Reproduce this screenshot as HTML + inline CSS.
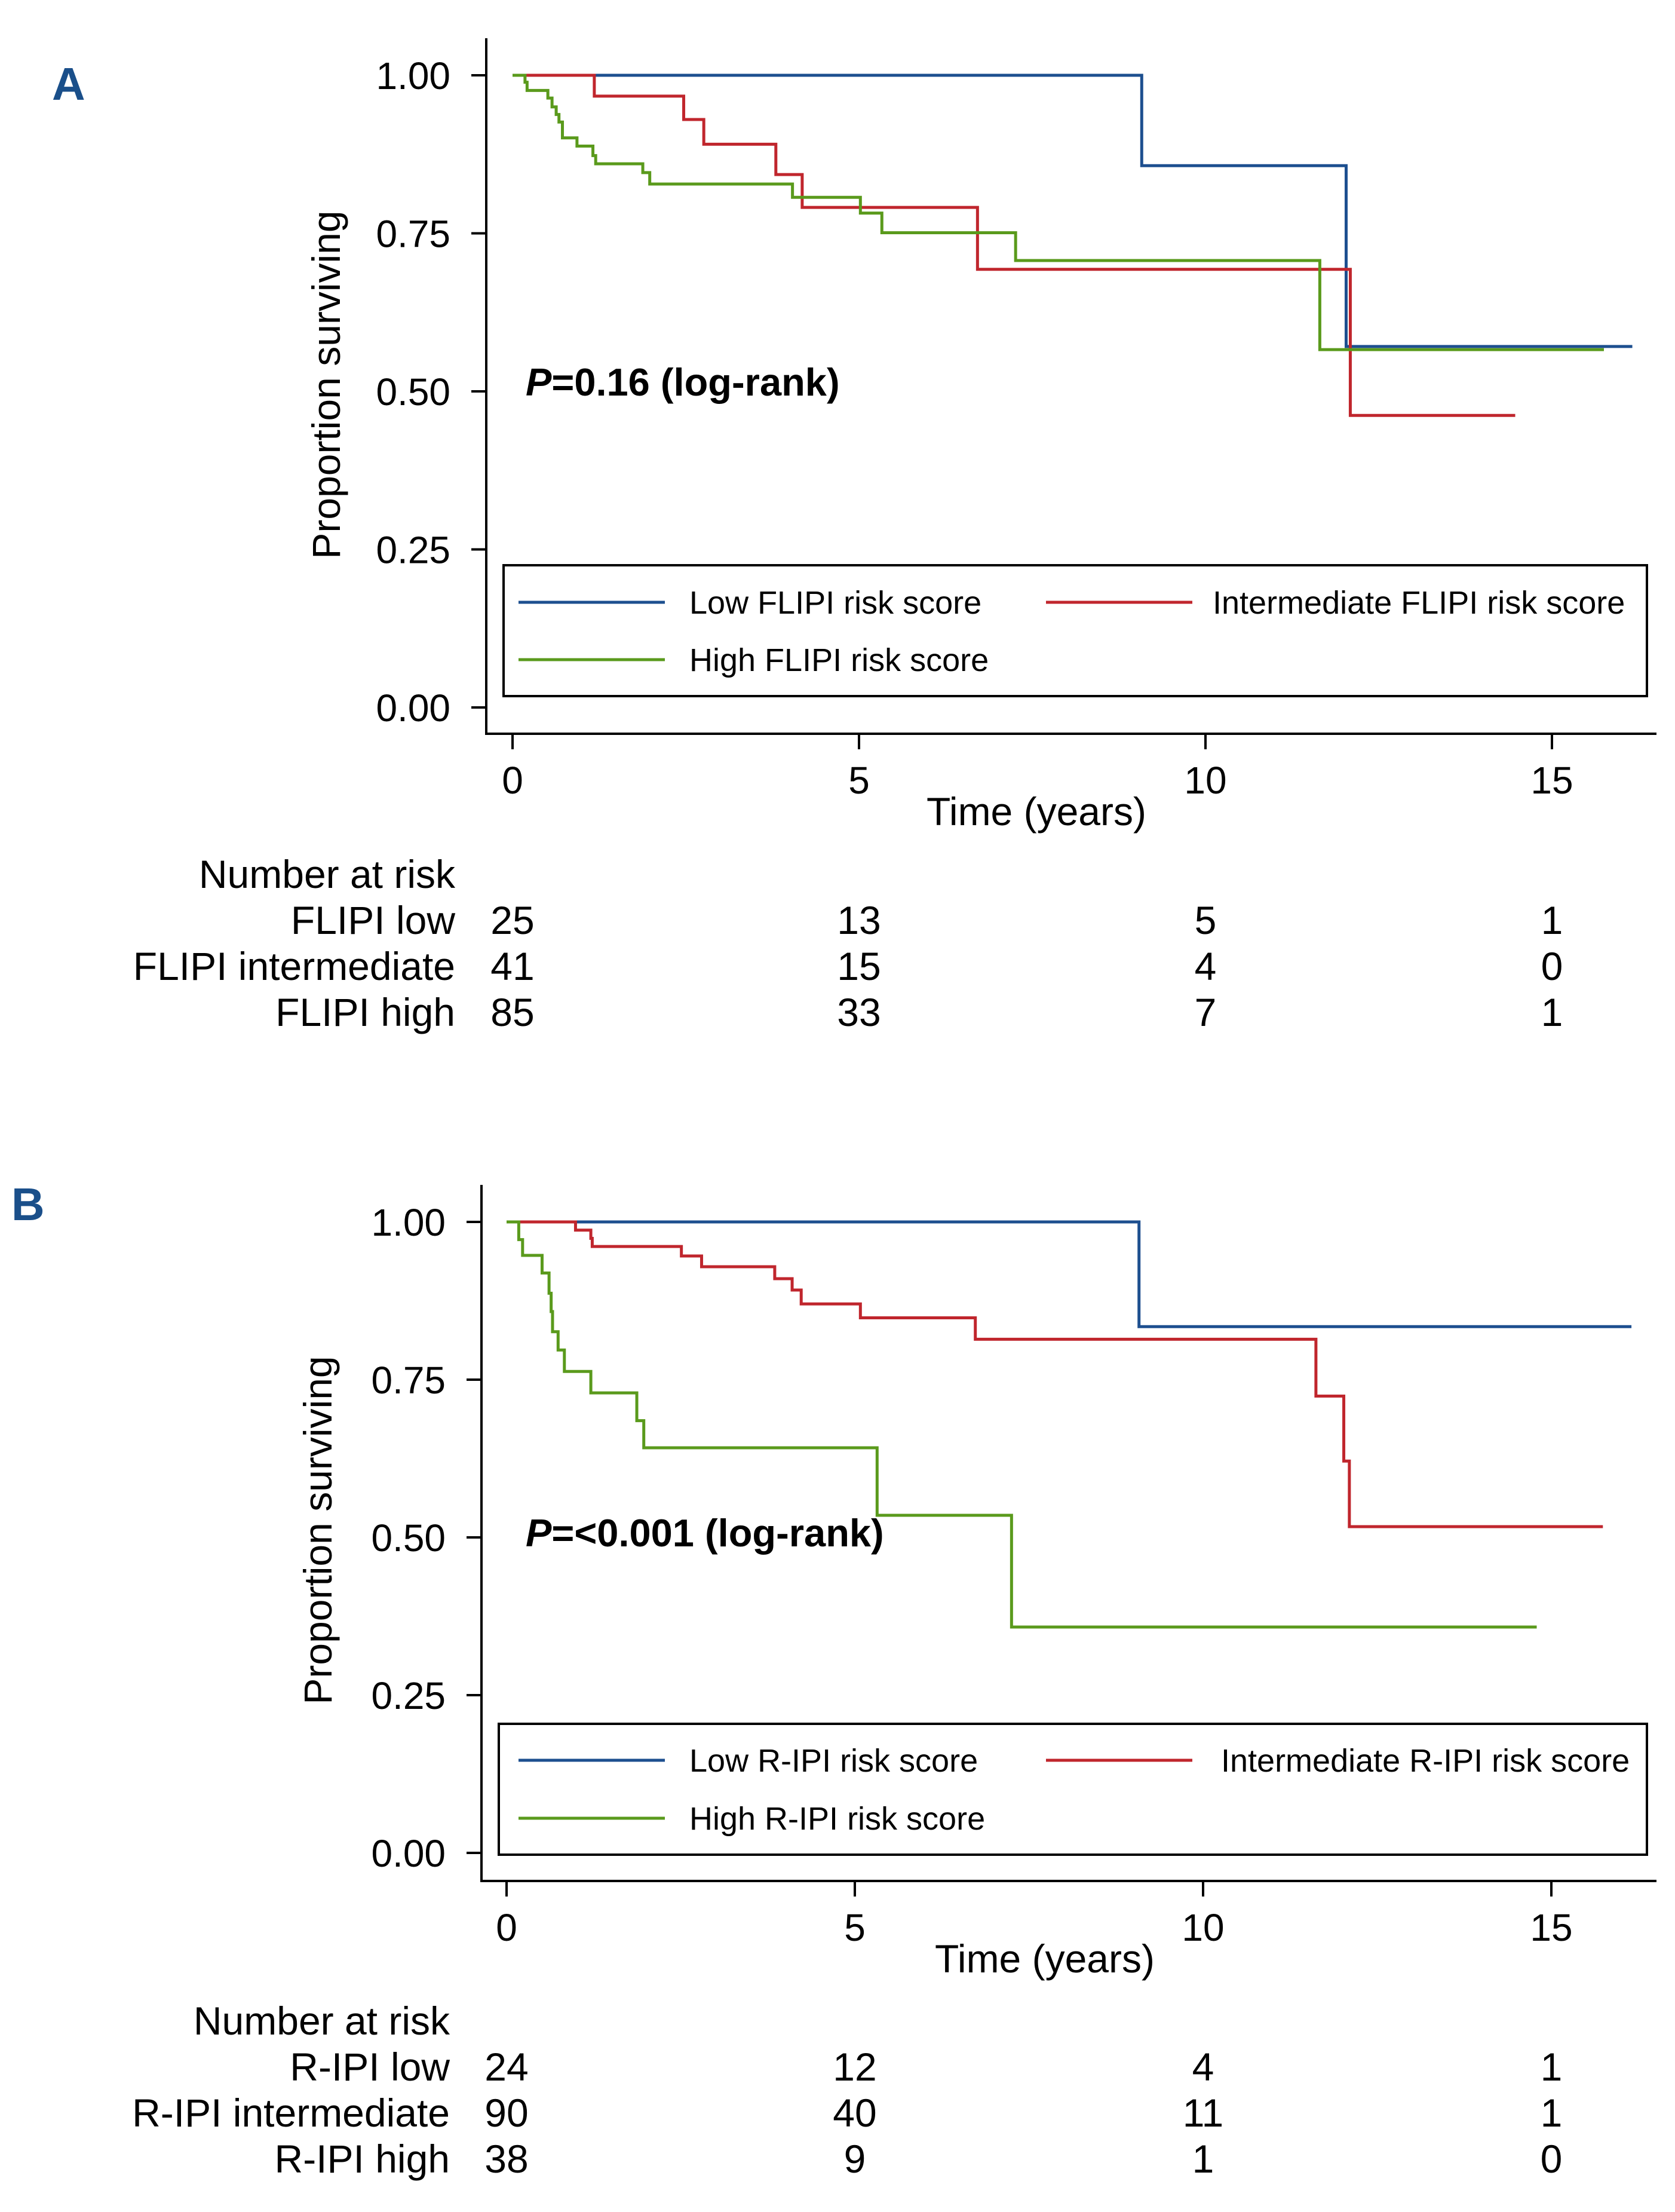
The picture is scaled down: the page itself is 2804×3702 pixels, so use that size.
<!DOCTYPE html>
<html><head><meta charset="utf-8">
<style>
html,body{margin:0;padding:0;background:#fff;}
svg{display:block;font-family:"Liberation Sans",Arial,sans-serif;}
</style></head>
<body>
<svg id="chart" width="2804" height="3702" viewBox="0 0 2804 3702" xmlns="http://www.w3.org/2000/svg">
<rect width="2804" height="3702" fill="#fff"/>
</svg>
<script>
// ---------- Data ----------
const xTicks = [0, 5, 10, 15];
const yTicks = [0, 0.25, 0.5, 0.75, 1];
const yTickLabels = ["0.00", "0.25", "0.50", "0.75", "1.00"];

// Panel A (FLIPI)
const aLowT = [9.08, 12.03];
const aLowS = [0.857, 0.571];
const aLowEnd = 16.16;
const aIntT = [1.18, 2.47, 2.76, 3.80, 4.18, 6.71, 12.09];
const aIntS = [0.967, 0.930, 0.891, 0.843, 0.791, 0.693, 0.462];
const aIntEnd = 14.47;
const aHighT = [0.18, 0.21, 0.51, 0.57, 0.63, 0.67, 0.72, 0.93, 1.16, 1.20, 1.88, 1.98, 4.04, 5.02, 5.33, 7.26, 11.65];
const aHighS = [0.989, 0.976, 0.964, 0.950, 0.938, 0.926, 0.901, 0.888, 0.873, 0.860, 0.846, 0.828, 0.807, 0.782, 0.751, 0.707, 0.566];
const aHighEnd = 15.75;
const aRiskLabels = ["FLIPI low", "FLIPI intermediate", "FLIPI high"];
const aRiskLow = [25, 13, 5, 1];
const aRiskInt = [41, 15, 4, 0];
const aRiskHigh = [85, 33, 7, 1];

// Panel B (R-IPI)
const bLowT = [9.08];
const bLowS = [0.834];
const bLowEnd = 16.15;
const bIntT = [0.99, 1.21, 1.23, 2.51, 2.80, 3.85, 4.10, 4.23, 5.08, 6.73, 11.62, 12.02, 12.10];
const bIntS = [0.987, 0.974, 0.961, 0.946, 0.929, 0.910, 0.892, 0.870, 0.848, 0.814, 0.724, 0.621, 0.517];
const bIntEnd = 15.74;
const bHighT = [0.175, 0.23, 0.51, 0.61, 0.64, 0.66, 0.74, 0.83, 1.21, 1.87, 1.97, 5.32, 7.25];
const bHighS = [0.972, 0.947, 0.919, 0.887, 0.858, 0.826, 0.797, 0.763, 0.729, 0.685, 0.642, 0.535, 0.358];
const bHighEnd = 14.79;
const bRiskLabels = ["R-IPI low", "R-IPI intermediate", "R-IPI high"];
const bRiskLow = [24, 12, 4, 1];
const bRiskInt = [90, 40, 11, 1];
const bRiskHigh = [38, 9, 1, 0];

const BLUE = "#1d4f8f", RED = "#c0262d", GREEN = "#5a9a1c";
const NS = "http://www.w3.org/2000/svg";
const svg = document.getElementById("chart");

function mk(tag, attrs, parent, text) {
  const e = document.createElementNS(NS, tag);
  for (const k in attrs) e.setAttribute(k, attrs[k]);
  if (text !== undefined) e.textContent = text;
  (parent || svg).appendChild(e);
  return e;
}

function panel(cfg) {
  const g = mk("g", {});
  
  
  const x = t => cfg.x0 + (cfg.x15 - cfg.x0) * t / 15;
  const y = v => cfg.y0 + (cfg.y1 - cfg.y0) * v;

  const L = mk("text", {x: cfg.letterX, y: cfg.letterY, "font-size": 77, "font-weight": "bold", fill: "#1a4f8a"}, g, cfg.letter);
  
  

  const ya = mk("line", {x1: cfg.ax, y1: cfg.axTop, x2: cfg.ax, y2: cfg.axBot + 2, stroke: "#000", "stroke-width": 4}, g);
  
  
  const xa = mk("line", {x1: cfg.ax - 2, y1: cfg.axBot, x2: 2773, y2: cfg.axBot, stroke: "#000", "stroke-width": 4}, g);
  
  

  yTicks.forEach((v, i) => {
    const tk = mk("line", {x1: cfg.ax - 25, y1: y(v), x2: cfg.ax, y2: y(v), stroke: "#000", "stroke-width": 4}, g);
    
    
    const tl = mk("text", {x: cfg.ax - 60, y: y(v) + 23, "font-size": 64, "text-anchor": "end"}, g, yTickLabels[i]);
    
    
  });
  xTicks.forEach(t => {
    const tk = mk("line", {x1: x(t), y1: cfg.axBot, x2: x(t), y2: cfg.axBot + 26, stroke: "#000", "stroke-width": 4}, g);
    
    
    const tl = mk("text", {x: x(t), y: cfg.axBot + 100, "font-size": 64, "text-anchor": "middle"}, g, String(t));
    
    
  });

  const xt = mk("text", {x: cfg.xTitleX, y: cfg.axBot + 153, "font-size": 66, "text-anchor": "middle"}, g, "Time (years)");
  
  
  const yt = mk("text", {x: 0, y: 0, "font-size": 66, "text-anchor": "middle", transform: `translate(${cfg.yTitleX},${cfg.yTitleY}) rotate(-90)`}, g, "Proportion surviving");
  
  

  cfg.series.forEach(s => {
    let d = `M${x(0)},${y(1)}`;
    s.t.forEach((t, i) => { d += ` H${x(t)} V${y(s.s[i])}`; });
    d += ` H${x(s.end)}`;
    const p = mk("path", {d: d, fill: "none", stroke: s.color, "stroke-width": 5, "stroke-linejoin": "miter"}, g);
    
    
  });

  const pt = mk("text", {x: 880, y: cfg.pY, "font-size": 65, "font-weight": "bold"}, g);
  
  
  mk("tspan", {"font-style": "italic"}, pt, "P");
  mk("tspan", {}, pt, cfg.pText);

  const lg = mk("g", {}, g);
  
  
  mk("rect", {x: cfg.legX, y: cfg.legTop, width: 2757 - cfg.legX, height: cfg.legBot - cfg.legTop, fill: "#fff", stroke: "#000", "stroke-width": 4}, lg);
  const entries = [
    {lx: 868, tx: 1154, ry: cfg.legR1, c: BLUE, txt: cfg.legLabels[0]},
    {lx: 1751, tx: cfg.col2Text, ry: cfg.legR1, c: RED, txt: cfg.legLabels[1]},
    {lx: 868, tx: 1154, ry: cfg.legR2, c: GREEN, txt: cfg.legLabels[2]}
  ];
  entries.forEach(e => {
    const eg = mk("g", {}, lg);
    
    
    mk("line", {x1: e.lx, y1: e.ry, x2: e.lx + 245, y2: e.ry, stroke: e.c, "stroke-width": 5}, eg);
    mk("text", {x: e.tx, y: e.ry + 19, "font-size": 54}, eg, e.txt);
  });

  const rt = mk("g", {}, g);
  
  
  mk("text", {x: cfg.riskRight, y: cfg.riskY0, "font-size": 66, "text-anchor": "end"}, rt, "Number at risk");
  [cfg.risk[0], cfg.risk[1], cfg.risk[2]].forEach((row, r) => {
    const ry = cfg.riskY0 + 77 * (r + 1);
    mk("text", {x: cfg.riskRight, y: ry, "font-size": 66, "text-anchor": "end"}, rt, cfg.riskLabels[r]);
    row.forEach((n, i) => {
      mk("text", {x: x(xTicks[i]), y: ry, "font-size": 66, "text-anchor": "middle"}, rt, String(n));
    });
  });
}

panel({
  name: "panel-a-flipi", letter: "A", letterX: 87, letterY: 167,
  x0: 858, x15: 2598, y1: 126, y0: 1184, ax: 814, axTop: 64, axBot: 1228,
  xTitleX: 1735, yTitleX: 569, yTitleY: 644, pY: 662, pText: "=0.16 (log-rank)",
  legX: 843, legTop: 946, legBot: 1165, legR1: 1008, legR2: 1104, col2Text: 2030,
  legLabels: ["Low FLIPI risk score", "Intermediate FLIPI risk score", "High FLIPI risk score"],
  series: [
    {name: "curve-low-flipi", t: aLowT, s: aLowS, end: aLowEnd, color: BLUE},
    {name: "curve-intermediate-flipi", t: aIntT, s: aIntS, end: aIntEnd, color: RED},
    {name: "curve-high-flipi", t: aHighT, s: aHighS, end: aHighEnd, color: GREEN}
  ],
  riskRight: 762, riskY0: 1486, riskLabels: aRiskLabels, risk: [aRiskLow, aRiskInt, aRiskHigh]
});

panel({
  name: "panel-b-ripi", letter: "B", letterX: 19, letterY: 2042,
  x0: 848, x15: 2597, y1: 2045, y0: 3101, ax: 806, axTop: 1983, axBot: 3148,
  xTitleX: 1749, yTitleX: 555, yTitleY: 2561, pY: 2588, pText: "=<0.001 (log-rank)",
  legX: 835, legTop: 2885, legBot: 3104, legR1: 2946, legR2: 3043, col2Text: 2044,
  legLabels: ["Low R-IPI risk score", "Intermediate R-IPI risk score", "High R-IPI risk score"],
  series: [
    {name: "curve-low-ripi", t: bLowT, s: bLowS, end: bLowEnd, color: BLUE},
    {name: "curve-intermediate-ripi", t: bIntT, s: bIntS, end: bIntEnd, color: RED},
    {name: "curve-high-ripi", t: bHighT, s: bHighS, end: bHighEnd, color: GREEN}
  ],
  riskRight: 753, riskY0: 3405, riskLabels: bRiskLabels, risk: [bRiskLow, bRiskInt, bRiskHigh]
});
</script>
</body></html>
